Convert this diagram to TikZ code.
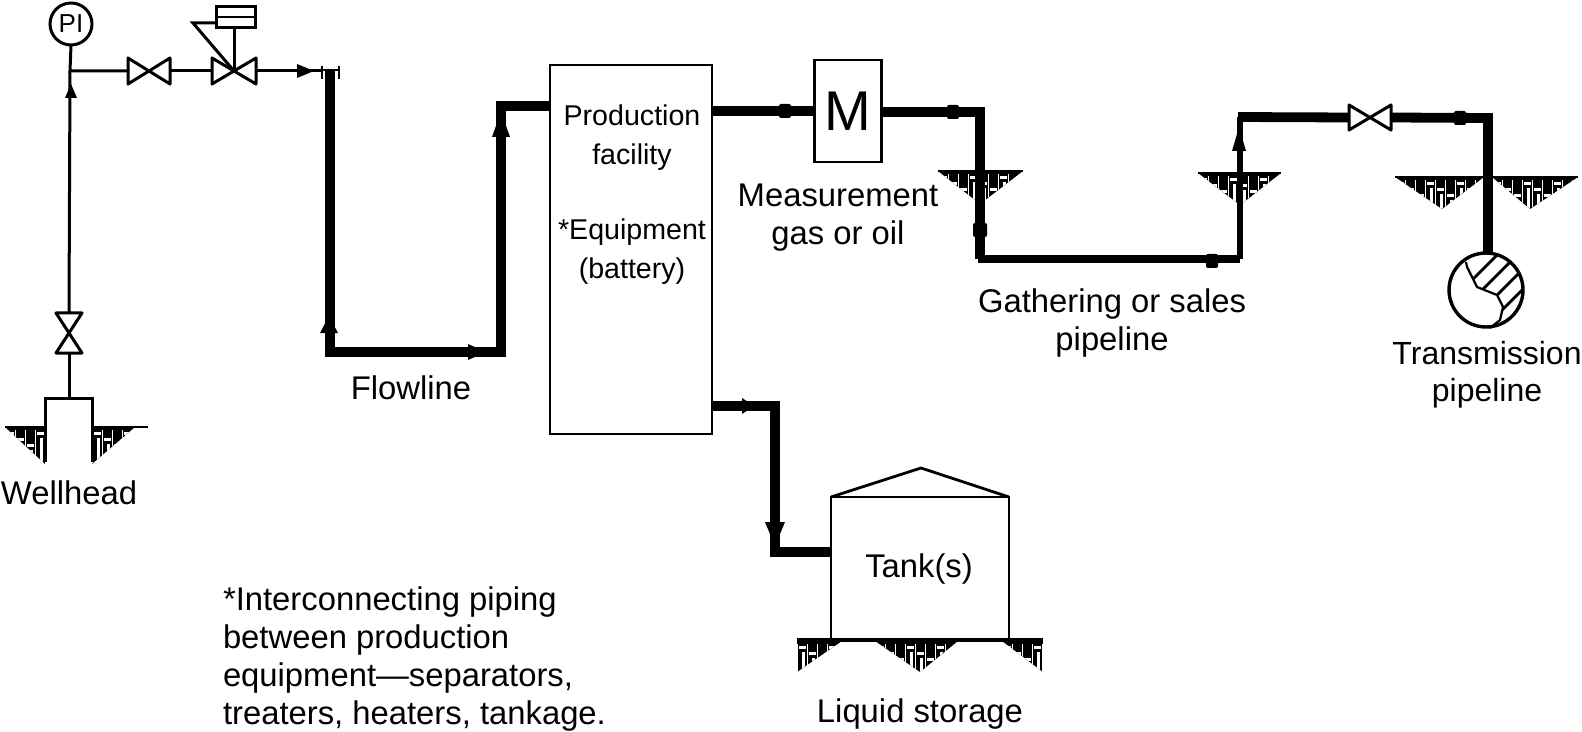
\documentclass[tikz,border=0pt]{standalone}
\usepackage{fontspec}
\setmainfont{Liberation Sans}
\tikzset{
  x=0.5pt,y=-0.5pt,
  thinline/.style={line width=1.5pt,draw=black},
  pipe/.style={line width=4.9pt,draw=black,line join=miter},
  box/.style={draw=black,line width=1.1pt,fill=white,inner sep=0pt,outer sep=0pt},
  valveh/.style={inner sep=0pt,outer sep=0pt,minimum width=21pt,minimum height=13pt},
  valvev/.style={inner sep=0pt,outer sep=0pt,minimum width=13pt,minimum height=20pt},
  lab/.style={inner sep=0pt,outer sep=0pt,font=\fontsize{16.4}{19}\selectfont,align=center,text=black},
  labs/.style={lab,font=\fontsize{14.3}{19.5}\selectfont},
}
\newcommand{\bowh}[1]{\draw[thinline,fill=white,line join=round] (#1.north west)--(#1.south east)--(#1.north east)--(#1.south west)--cycle;}
\newcommand{\bowv}[1]{\draw[thinline,fill=white,line join=round] (#1.north west)--(#1.north east)--(#1.south west)--(#1.south east)--cycle;}
% \tipp{x}{y}{rotation}{length}{half width}: arrowhead with its tip at x,y
\newcommand{\tipp}[5]{\fill[black,rotate around={#3:(#1,#2)}] (#1,#2)--++(-#4,-#5)--++(0,2*#5)--cycle;}
\newcommand{\bumph}[2]{\fill[black,rounded corners=1pt] (#1-6,#2-7) rectangle (#1+6,#2+7);}
\newcommand{\bumpv}[2]{\fill[black,rounded corners=1pt] (#1-7,#2-7) rectangle (#1+7,#2+7);}
% \soil{x1}{x2}{apex x}{y top}{y bottom}
\newcommand{\soil}[5]{%
 \begin{scope}
  \clip (#1,#4)--(#2,#4)--(#3,#5)--cycle;
  \fill[black] (#1,#4) rectangle (#2,#5);
  \foreach \k in {0,...,40}{
    \pgfmathsetmacro{\xa}{#1+\k*10+2}
    \pgfmathsetmacro{\ya}{#4+5+mod(\k,3)*6}
    \fill[white] (\xa,\ya) rectangle (\xa+7,\ya+3);
    \fill[white] (\xa-2.5,#4+3) rectangle (\xa-0.8,#5);
    \fill[white] (\xa+3,\ya+6) rectangle (\xa+6,#5);
  }
 \end{scope}
 \draw[line width=1.2pt] (#1,#4)--(#2,#4);
}
\begin{document}
\begin{tikzpicture}
\useasboundingbox (0,0) rectangle (1582,732);

% soil
\soil{5}{45}{45}{427}{464}
\soil{92}{135}{92}{427}{464}
\draw[line width=.8pt] (135,427)--(148,427);
\soil{938}{1023}{980}{171}{204}
\soil{1198}{1281}{1240}{173}{205}
\soil{1395}{1484}{1442}{177}{209}
\soil{1492}{1578}{1530}{177}{209}
\soil{797}{842}{797}{641}{672}
\soil{875}{958}{920}{641}{672}
\soil{1002}{1043}{1043}{641}{672}

% named points of the lines
\coordinate (junc) at (70,71);
\coordinate (flowA) at (330,71);
\coordinate (flowB) at (330,352);
\coordinate (flowC) at (501,352);
\coordinate (flowD) at (501,106);
\coordinate (prodIn) at (551,106);
\coordinate (prodOut) at (712,111);
\coordinate (mIn) at (815,111);
\coordinate (mOut) at (881,112);
\coordinate (gaA) at (980,112);
\coordinate (gaB) at (980,259);
\coordinate (gaC) at (1240,259);
\coordinate (gaD) at (1240,117);
\coordinate (trA) at (1488,118);
\coordinate (liqOut) at (712,406);
\coordinate (liqA) at (775,406);
\coordinate (liqB) at (775,552);
\coordinate (tankIn) at (831,552);
\coordinate (trEnd) at (1488,258);

% nodes
\node[box,minimum width=81pt,minimum height=184.5pt] (prod) at (631,249.5) {};
\node[box,minimum width=33.5pt,minimum height=51pt,font=\fontsize{28}{28}\selectfont] (meter) at (848,111) {M};
\node[box,circle,minimum size=21pt,line width=1.5pt,font=\fontsize{13}{13}\selectfont] (pi) at (71,24) {PI};
\node[box,minimum width=19.5pt,minimum height=10.5pt,line width=1.5pt] (act) at (235.5,17.5) {};
\node[valveh] (v1) at (149,71) {};
\node[valveh,minimum width=22pt] (v2) at (234,71) {};
\node[valveh,minimum height=12.5pt] (v3) at (1370,117.5) {};
\node[valvev] (v4) at (69,333) {};
\coordinate (actTail) at (193,23);
\coordinate (wellTop) at (69,398);

% thin piping
\draw[thinline] (pi.south) -- (junc) -- (v1.west);
\draw[thinline] (v1.east) -- (v2.west);
\draw[thinline] (v2.east) -- (322,71);
\draw[thinline] (junc) -- (v4.north);
\draw[thinline] (v4.south) -- (wellTop);
\draw[thinline] (act.south -| v2.center) -- (v2.center);
\draw[thinline] (act.west |- actTail) -- (actTail) -- (v2.center);
\draw[line width=1pt] (act.west) -- (act.east);
\bowh{v1}\bowh{v2}\bowv{v4}

% wellhead
\draw[line width=1.5pt] (45,462)--(45,398)--(92,398)--(92,462);

% flowline flange
\draw[line width=.9pt] (322,66)--(322,79) (339,66)--(339,79);
\draw[line width=1.2pt] (322,70)--(339,70);

% heavy piping
\draw[pipe] (flowA) -- (flowB) -- (flowC) -- (flowD) -- (prodIn);
\draw[pipe] (prodOut) -- (mIn);
\draw[pipe] (mOut) -- (gaA) -- (980,259);
\draw[pipe,line width=3.8pt] (978,259) -- (gaC);
\draw[line width=2.8pt] (gaC) -- (gaD);
\draw[pipe] (1238,117) -- (v3.west);
\draw[pipe] (v3.east) -- (trA) -- (trEnd);
\draw[pipe] (liqOut) -- (liqA) -- (liqB) -- (tankIn);
\bowh{v3}

% arrowheads and couplings
\tipp{71}{84}{90}{14}{6}
\tipp{314}{71}{0}{17}{7}
\tipp{329}{316}{90}{17}{9}
\tipp{486}{352}{0}{18}{8}
\tipp{501}{112}{90}{25}{9}
\tipp{754}{406}{0}{12}{8}
\tipp{775}{546}{-90}{24}{10}
\tipp{1239}{127}{90}{24}{7}
\bumph{785}{111}
\bumph{953}{112}
\bumpv{980}{230}
\bumph{1212}{261}
\bumph{1460}{118}

% tank
\node[box,minimum width=89pt,minimum height=71.5pt,anchor=north west,line width=1.3pt] (tank) at (831,497) {};
\draw[line width=1.4pt,line join=round] (tank.north west) -- (921,468) -- (tank.north east);
\draw[line width=1.6pt] (797,640)--(1043,640);

% globe
\node[circle,draw=black,line width=1.7pt,fill=white,minimum size=37pt,inner sep=0pt] (earth) at (1486,290) {};
\begin{scope}
  \clip (1486,290) circle (37);
  \clip (1464,255)--(1467,267)--(1477,287)--(1497,295)--(1503,307)--(1500,320)--(1490,330)--(1530,330)--(1530,250)--cycle;
  \foreach \c in {1452,1472,1492,1512,1532,1552}{
    \draw[line width=1.4pt] (\c-50,350)--(\c+60,240);
  }
\end{scope}
\draw[line width=1.1pt] (1466,262)--(1467,267)--(1477,287)--(1497,295)--(1503,307)--(1500,320)--(1490,328);

% labels
\node[labs,anchor=center] (tProd) at (632,138) {Production\\facility};
\node[labs,anchor=center] (tEq) at (632,251.5) {*Equipment\\(battery)};
\node[lab] (tMeas) at (838,217.5) {Measurement\\gas or oil};
\node[lab] (tGath) at (1112,323) {Gathering or sales\\pipeline};
\node[lab,font=\fontsize{16}{18.6}\selectfont] (tTrans) at (1487,374.5) {Transmission\\pipeline};
\node[lab] (tFlow) at (411,388) {Flowline};
\node[lab] (tWell) at (69,493) {Wellhead};
\node[lab] (tTank) at (919,569) {Tank(s)};
\node[lab] (tLiq) at (920,714) {Liquid storage};
\node[lab,align=left,anchor=west] (tNote) at (223,659) {*Interconnecting piping\\between production\\equipment—separators,\\treaters, heaters, tankage.};
\end{tikzpicture}
\end{document}
